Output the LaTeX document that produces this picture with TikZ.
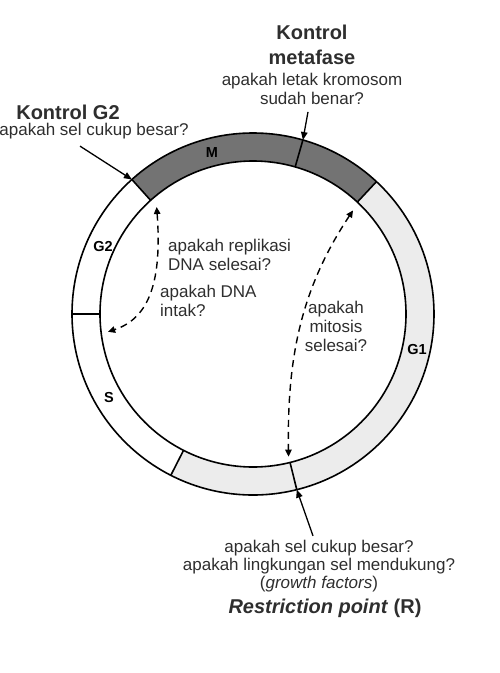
\documentclass[tikz,border=0pt]{standalone}
\usepackage{fontspec}
\setmainfont{Liberation Sans}
\usetikzlibrary{arrows.meta}

\definecolor{ink}{HTML}{2E2E2E}
\definecolor{mshade}{HTML}{737373}
\definecolor{gshade}{HTML}{ECECEC}

\begin{document}
\begin{tikzpicture}
    [
        x = 1pt, y = 1pt,
        every node/.append style = {inner sep = 0pt, text = ink},
        asktxt/.style = {font = \fontsize{17}{19}\selectfont},
        headtxt/.style = {font = \bfseries\fontsize{20}{25}\selectfont},
        phasetag/.style = {font = \bfseries\fontsize{14.5}{16}\selectfont, text = black},
        rim/.style = {draw = black, line width = 1.6pt},
        pointer/.style = {-{Triangle[length = 8pt, width = 6.5pt]}, line width = 1.3pt},
        dashloop/.style = {{Triangle[length = 7pt, width = 6.5pt]}-{Triangle[length = 7pt, width = 6.5pt]}, dash pattern = on 7pt off 5pt, line width = 1.4pt}
    ]

    \useasboundingbox (0, 0) rectangle (500, -673);
    \coordinate (cc) at (253, -314);

    % shaded phases of the ring
    \fill[mshade] ([shift={(cc)}]47:181) arc[start angle = 47, end angle = 132, radius = 181]
        -- ([shift={(cc)}]132:153) arc[start angle = 132, end angle = 47, radius = 153] -- cycle;
    \fill[gshade] ([shift={(cc)}]-117:181) arc[start angle = -117, end angle = 47, radius = 181]
        -- ([shift={(cc)}]47:153) arc[start angle = 47, end angle = -117, radius = 153] -- cycle;

    \draw[rim] (cc) circle[radius = 181] (cc) circle[radius = 153];
    \foreach \a in {47, 74, 132, 180, 243, 284}
        \draw[rim] ([shift={(cc)}]\a:153) -- ([shift={(cc)}]\a:181);

    \node[phasetag] (mlab) at (212, -153) {M};
    \node[phasetag] (g2lab) at (103, -247) {G2};
    \node[phasetag] (slab) at (109, -398) {S};
    \node[phasetag] (g1lab) at (417, -350) {G1};

    % points on the ring
    \coordinate (onG2) at ([shift={(cc)}]132:181);
    \coordinate (onMeta) at ([shift={(cc)}]74:181);
    \coordinate (onR) at ([shift={(cc)}]284:181);
    \coordinate (inM) at ([shift={(cc)}]132:144);
    \coordinate (inS) at ([shift={(cc)}]187:146);
    \coordinate (inG1) at ([shift={(cc)}]46:144);
    \coordinate (inR) at ([shift={(cc)}]284:147);

    % checkpoints
    \node[headtxt, align = center] (kmeta) at (312, -45) {Kontrol\\metafase};
    \node[asktxt, align = center] (metaq) at (312, -89) {apakah letak kromosom\\sudah benar?};
    \node[headtxt] (kg2) at (68, -112) {Kontrol G2};
    \node[asktxt] (g2q) at (94, -131) {apakah sel cukup besar?};
    \node[asktxt, align = center, font = \fontsize{17}{18}\selectfont] (rq) at (319, -566)
        {apakah sel cukup besar?\\apakah lingkungan sel mendukung?\\(\textit{growth factors})};
    \node[headtxt] (rpt) at (325, -608) {\textit{Restriction point} (R)};

    \node[asktxt, align = left, anchor = west] (repq) at (168, -255) {apakah replikasi\\DNA selesai?};
    \node[asktxt, align = left, anchor = west] (intq) at (160, -301) {apakah DNA\\intak?};
    \node[asktxt, align = center] (mitq) at (336, -326) {apakah\\mitosis\\selesai?};

    \draw[pointer] ([xshift = -14pt, yshift = -7pt]g2q.south) -- (onG2);
    \draw[pointer] ([xshift = -4pt, yshift = -7pt]metaq.south) -- (onMeta);
    \draw[pointer] ([xshift = -6pt, yshift = 4pt]rq.north) -- (onR);

    \draw[dashloop] (inM) .. controls (162, -280) and (150, -318) .. (inS);
    \draw[dashloop] (inG1) .. controls (300, -290) and (287, -360) .. (inR);

\end{tikzpicture}
\end{document}
